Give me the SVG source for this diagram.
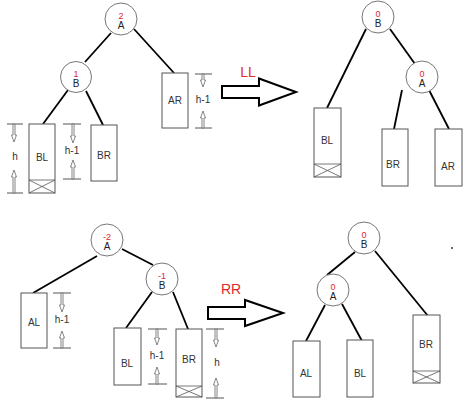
<svg xmlns="http://www.w3.org/2000/svg" width="474" height="409" viewBox="0 0 474 409">
<style>
.bg{fill:#fff}
.node circle{fill:#fff;stroke:#777;stroke-width:1}
.num{font-family:"Liberation Sans",Arial,sans-serif;font-size:9px;fill:#e0282f;text-anchor:middle}
.let{font-family:"Liberation Sans",Arial,sans-serif;font-size:10px;fill:#222;text-anchor:middle}
.box rect{fill:#fff;stroke:#555;stroke-width:1}
.box line{stroke:#555;stroke-width:0.8}
.lbl{font-family:"Liberation Sans",Arial,sans-serif;font-size:10px;fill:#333;text-anchor:middle}
.edges line{stroke:#000;stroke-width:1.8}
.dim line{stroke:#555;stroke-width:1}
.dim path{fill:#fff;stroke:#666;stroke-width:0.8}
.big{fill:#fff;stroke:#000;stroke-width:2;stroke-linejoin:miter}
.op{font-family:"Liberation Sans",Arial,sans-serif;font-size:14px;fill:#e0282f;text-anchor:middle}
</style>
<rect class="bg" x="0" y="0" width="474" height="409"/>

<g id="connectors" class="edges">
  <line x1="111" y1="33" x2="85" y2="62"/>
  <line x1="134" y1="29" x2="174" y2="73"/>
  <line x1="68" y1="90" x2="43" y2="124"/>
  <line x1="86" y1="91" x2="103" y2="125"/>
  <line x1="390" y1="29" x2="415" y2="64"/>
  <line x1="366" y1="29" x2="327" y2="108"/>
  <line x1="402" y1="90" x2="394" y2="129"/>
  <line x1="429" y1="90" x2="449" y2="129"/>
  <line x1="97" y1="256" x2="33" y2="293"/>
  <line x1="122" y1="249" x2="153" y2="265"/>
  <line x1="152" y1="292" x2="126" y2="328"/>
  <line x1="173" y1="292" x2="188" y2="329"/>
  <line x1="355" y1="252" x2="327" y2="275"/>
  <line x1="375" y1="251" x2="428" y2="316"/>
  <line x1="325" y1="305" x2="306" y2="341"/>
  <line x1="342" y1="304" x2="362" y2="341"/>
</g>

<!-- Top-left tree -->
<g id="tl-A" class="node"><circle cx="121" cy="19" r="16"/><text class="num" x="121" y="19">2</text><text class="let" x="121" y="29">A</text></g>
<g id="tl-B" class="node"><circle cx="76" cy="77" r="15.5"/><text class="num" x="76" y="77">1</text><text class="let" x="76" y="87">B</text></g>
<g id="tl-AR" class="box"><rect x="162" y="73" width="26" height="55"/><text class="lbl" x="175" y="104">AR</text></g>
<g id="tl-BL" class="box"><rect x="29" y="124" width="26" height="69"/><line x1="29" y1="180" x2="55" y2="180"/><line x1="29" y1="180" x2="55" y2="193"/><line x1="55" y1="180" x2="29" y2="193"/><text class="lbl" x="42" y="161">BL</text></g>
<g id="tl-BR" class="box"><rect x="91" y="125" width="26" height="56"/><text class="lbl" x="104" y="159">BR</text></g>

<!-- Top-right tree -->
<g id="tr-B" class="node"><circle cx="378" cy="17" r="16"/><text class="num" x="378" y="17">0</text><text class="let" x="378" y="27">B</text></g>
<g id="tr-A" class="node"><circle cx="422" cy="77" r="16"/><text class="num" x="422" y="77">0</text><text class="let" x="422" y="87">A</text></g>
<g id="tr-BL" class="box"><rect x="314" y="108" width="27" height="69"/><line x1="314" y1="164" x2="341" y2="164"/><line x1="314" y1="164" x2="341" y2="177"/><line x1="341" y1="164" x2="314" y2="177"/><text class="lbl" x="327" y="144">BL</text></g>
<g id="tr-BR" class="box"><rect x="382" y="129" width="26" height="57"/><text class="lbl" x="393" y="168">BR</text></g>
<g id="tr-AR" class="box"><rect x="435" y="129" width="27" height="57"/><text class="lbl" x="448" y="170">AR</text></g>

<!-- Bottom-left tree -->
<g id="bl-A" class="node"><circle cx="107" cy="240" r="16"/><text class="num" x="107" y="240">-2</text><text class="let" x="107" y="250">A</text></g>
<g id="bl-B" class="node"><circle cx="162" cy="279" r="16"/><text class="num" x="162" y="279">-1</text><text class="let" x="162" y="289">B</text></g>
<g id="bl-AL" class="box"><rect x="21" y="293" width="26" height="55"/><text class="lbl" x="34" y="326">AL</text></g>
<g id="bl-BL" class="box"><rect x="114" y="328" width="27" height="57"/><text class="lbl" x="127" y="367">BL</text></g>
<g id="bl-BR" class="box"><rect x="176" y="329" width="26" height="68"/><line x1="176" y1="386" x2="202" y2="386"/><line x1="176" y1="386" x2="202" y2="397"/><line x1="202" y1="386" x2="176" y2="397"/><text class="lbl" x="189" y="363">BR</text></g>

<!-- Bottom-right tree -->
<g id="br-B" class="node"><circle cx="364" cy="238" r="16"/><text class="num" x="364" y="238">0</text><text class="let" x="364" y="248">B</text></g>
<g id="br-A" class="node"><circle cx="333" cy="290" r="16"/><text class="num" x="333" y="290">0</text><text class="let" x="333" y="300">A</text></g>
<g id="br-AL" class="box"><rect x="293" y="341" width="27" height="56"/><text class="lbl" x="306" y="377">AL</text></g>
<g id="br-BL" class="box"><rect x="347" y="340" width="26" height="57"/><text class="lbl" x="360" y="377">BL</text></g>
<g id="br-BR" class="box"><rect x="413" y="315" width="27" height="68"/><line x1="413" y1="371" x2="440" y2="371"/><line x1="413" y1="371" x2="440" y2="383"/><line x1="440" y1="371" x2="413" y2="383"/><text class="lbl" x="426" y="348">BR</text></g>
<circle cx="452" cy="248" r="0.9" fill="#222"/>

<!-- Height dimensions -->
<g id="dims" class="dim">
  <line x1="195" y1="74" x2="212" y2="74"/><line x1="195" y1="128" x2="212" y2="128"/>
  <path d="M202,74 V80 H200.5 L203,87 L205.5,80 H204 V74 Z"/>
  <path d="M202,128 V118 H200.5 L203,111 L205.5,118 H204 V128 Z"/>
  <text class="lbl" x="203" y="103">h-1</text>
  <line x1="7" y1="124" x2="23" y2="124"/><line x1="7" y1="193" x2="23" y2="193"/>
  <path d="M13,124 V135 H11.5 L14,142 L16.5,135 H15 V124 Z"/>
  <path d="M13,193 V177 H11.5 L14,170 L16.5,177 H15 V193 Z"/>
  <text class="lbl" x="15" y="160">h</text>
  <line x1="63" y1="124" x2="81" y2="124"/><line x1="63" y1="179" x2="81" y2="179"/>
  <path d="M72,124 V136 H70.5 L73,143 L75.5,136 H74 V124 Z"/>
  <path d="M72,179 V167 H70.5 L73,160 L75.5,167 H74 V179 Z"/>
  <text class="lbl" x="72" y="154">h-1</text>
  <line x1="53" y1="293" x2="71" y2="293"/><line x1="53" y1="348" x2="71" y2="348"/>
  <path d="M61,293 V305 H59.5 L62,312 L64.5,305 H63 V293 Z"/>
  <path d="M61,348 V338 H59.5 L62,331 L64.5,338 H63 V348 Z"/>
  <text class="lbl" x="62" y="323">h-1</text>
  <line x1="148" y1="329" x2="167" y2="329"/><line x1="148" y1="384" x2="167" y2="384"/>
  <path d="M156,329 V338 H154.5 L157,345 L159.5,338 H158 V329 Z"/>
  <path d="M156,384 V374 H154.5 L157,367 L159.5,374 H158 V384 Z"/>
  <text class="lbl" x="157" y="359">h-1</text>
  <line x1="206" y1="329" x2="224" y2="329"/><line x1="206" y1="398" x2="224" y2="398"/>
  <path d="M215,329 V340 H213.5 L216,347 L218.5,340 H217 V329 Z"/>
  <path d="M215,398 V385 H213.5 L216,378 L218.5,385 H217 V398 Z"/>
  <text class="lbl" x="217" y="366">h</text>
</g>

<!-- Rotation arrows -->
<g id="arrow-LL">
  <polygon class="big" points="222,86 259,86 259,78.5 296,92 259,105.5 259,98 222,98"/>
  <text class="op" x="248" y="77">LL</text>
</g>
<g id="arrow-RR">
  <polygon class="big" points="208,307 245,307 245,300 283,313 245,326 245,319 208,319"/>
  <text class="op" x="231" y="294">RR</text>
</g>
</svg>
